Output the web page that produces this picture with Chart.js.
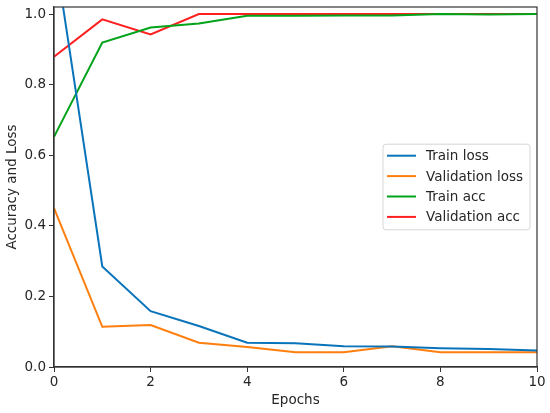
<!DOCTYPE html>
<html>
<head>
<meta charset="utf-8">
<script src="https://cdn.jsdelivr.net/npm/chart.js@4"></script>
<style>
  html, body { margin: 0; padding: 0; background: #fff; }
  #wrap { width: 550px; height: 413px; }
</style>
</head>
<body>
<div id="wrap"><canvas id="chart"></canvas></div>
<script>
const epochs = [0, 1, 2, 3, 4, 5, 6, 7, 8, 9, 10];
const trainLoss = [1.19, 0.285, 0.158, 0.116, 0.069, 0.067, 0.059, 0.058, 0.053, 0.051, 0.047];
const valLoss = [0.45, 0.114, 0.119, 0.069, 0.057, 0.042, 0.042, 0.059, 0.042, 0.042, 0.042];
const trainAcc = [0.652, 0.919, 0.962, 0.973, 0.995, 0.995, 0.996, 0.996, 1.0, 0.999, 1.0];
const valAcc = [0.879, 0.985, 0.942, 1.0, 1.0, 1.0, 1.0, 1.0, 1.0, 1.0, 1.0];
const xTicks = [0, 2, 4, 6, 8, 10];
const yTicks = [0, 0.2, 0.4, 0.6, 0.8, 1.0];

const FONT = 'DejaVu Sans';
const TEXT = '#262626';
const AXIS = '#333333';

function pts(ys) {
    return ys.map((y, i) => ({ x: epochs[i], y: y }));
}

// box around the plot (top and right spines) + legend like matplotlib "center right"
const framePlugin = {
    id: 'frame',
    afterDraw(chart) {
        const ctx = chart.ctx;
        const a = chart.chartArea;
        ctx.save();
        ctx.strokeStyle = AXIS;
        ctx.lineWidth = 1.2;
        ctx.strokeRect(a.left, a.top, a.right - a.left, a.bottom - a.top);

        // legend
        ctx.font = '13.5px "' + FONT + '"';
        const items = chart.data.datasets;
        let tw = 0;
        items.forEach(d => { tw = Math.max(tw, ctx.measureText(d.label).width); });
        const rowH = 20.4;
        const boxW = 4 + 29 + 10 + tw + 7;
        const boxH = items.length * rowH + 4;
        const bx = a.right - 7 - boxW;
        const by = (a.top + a.bottom) / 2 - boxH / 2;
        ctx.beginPath();
        ctx.roundRect(bx, by, boxW, boxH, 3);
        ctx.fillStyle = 'rgba(255,255,255,0.85)';
        ctx.fill();
        ctx.strokeStyle = '#d6d6d6';
        ctx.lineWidth = 1;
        ctx.stroke();
        ctx.textBaseline = 'middle';
        items.forEach((d, i) => {
            const y = by + 11.5 + i * rowH;
            ctx.strokeStyle = d.borderColor;
            ctx.lineWidth = 2;
            ctx.beginPath();
            ctx.moveTo(bx + 4, y);
            ctx.lineTo(bx + 33, y);
            ctx.stroke();
            ctx.fillStyle = TEXT;
            ctx.fillText(d.label, bx + 43, y + 1);
        });
        ctx.restore();
    }
};

const ctx = document.getElementById('chart').getContext('2d');
new Chart(ctx, {
    type: 'line',
    data: {
        datasets: [
            { label: 'Train loss', data: pts(trainLoss), borderColor: '#0a74bb' },
            { label: 'Validation loss', data: pts(valLoss), borderColor: '#ff7f0e' },
            { label: 'Train acc', data: pts(trainAcc), borderColor: '#00a31a' },
            { label: 'Validation acc', data: pts(valAcc), borderColor: '#ff1f1f' }
        ]
    },
    options: {
        responsive: true,
        maintainAspectRatio: false,
        animation: false,
        layout: { padding: { top: 7, right: 13, left: 0, bottom: 0 } },
        elements: {
            line: { borderWidth: 2, tension: 0, fill: false },
            point: { radius: 0 }
        },
        plugins: {
            legend: { display: false },
            tooltip: { enabled: false }
        },
        scales: {
            x: {
                type: 'linear',
                min: 0,
                max: 10,
                afterBuildTicks: s => { s.ticks = xTicks.map(v => ({ value: v })); },
                afterFit: s => { s.height = 46; s.paddingLeft = 0; s.paddingRight = 0; },
                grid: { drawOnChartArea: false, drawTicks: true, tickLength: 5, color: AXIS, lineWidth: 1 },
                border: { display: true, color: AXIS, width: 1.2 },
                ticks: { color: TEXT, font: { family: FONT, size: 13.5 }, padding: 2, maxRotation: 0 },
                title: { display: true, text: 'Epochs', color: TEXT, font: { family: FONT, size: 13.5 }, padding: { top: 2 } }
            },
            y: {
                min: 0,
                max: 1.02,
                afterBuildTicks: s => { s.ticks = yTicks.map(v => ({ value: v })); },
                afterFit: s => { s.width = 54; s.paddingTop = 0; s.paddingBottom = 0; },
                grid: { drawOnChartArea: false, drawTicks: true, tickLength: 5, color: AXIS, lineWidth: 1 },
                border: { display: true, color: AXIS, width: 1.2 },
                ticks: {
                    color: TEXT,
                    font: { family: FONT, size: 13.5 },
                    padding: 3,
                    callback: v => v.toFixed(1)
                },
                title: { display: true, text: 'Accuracy and Loss', color: TEXT, font: { family: FONT, size: 13.5 }, padding: { bottom: 3 } }
            }
        }
    },
    plugins: [framePlugin]
});
</script>
</body>
</html>
